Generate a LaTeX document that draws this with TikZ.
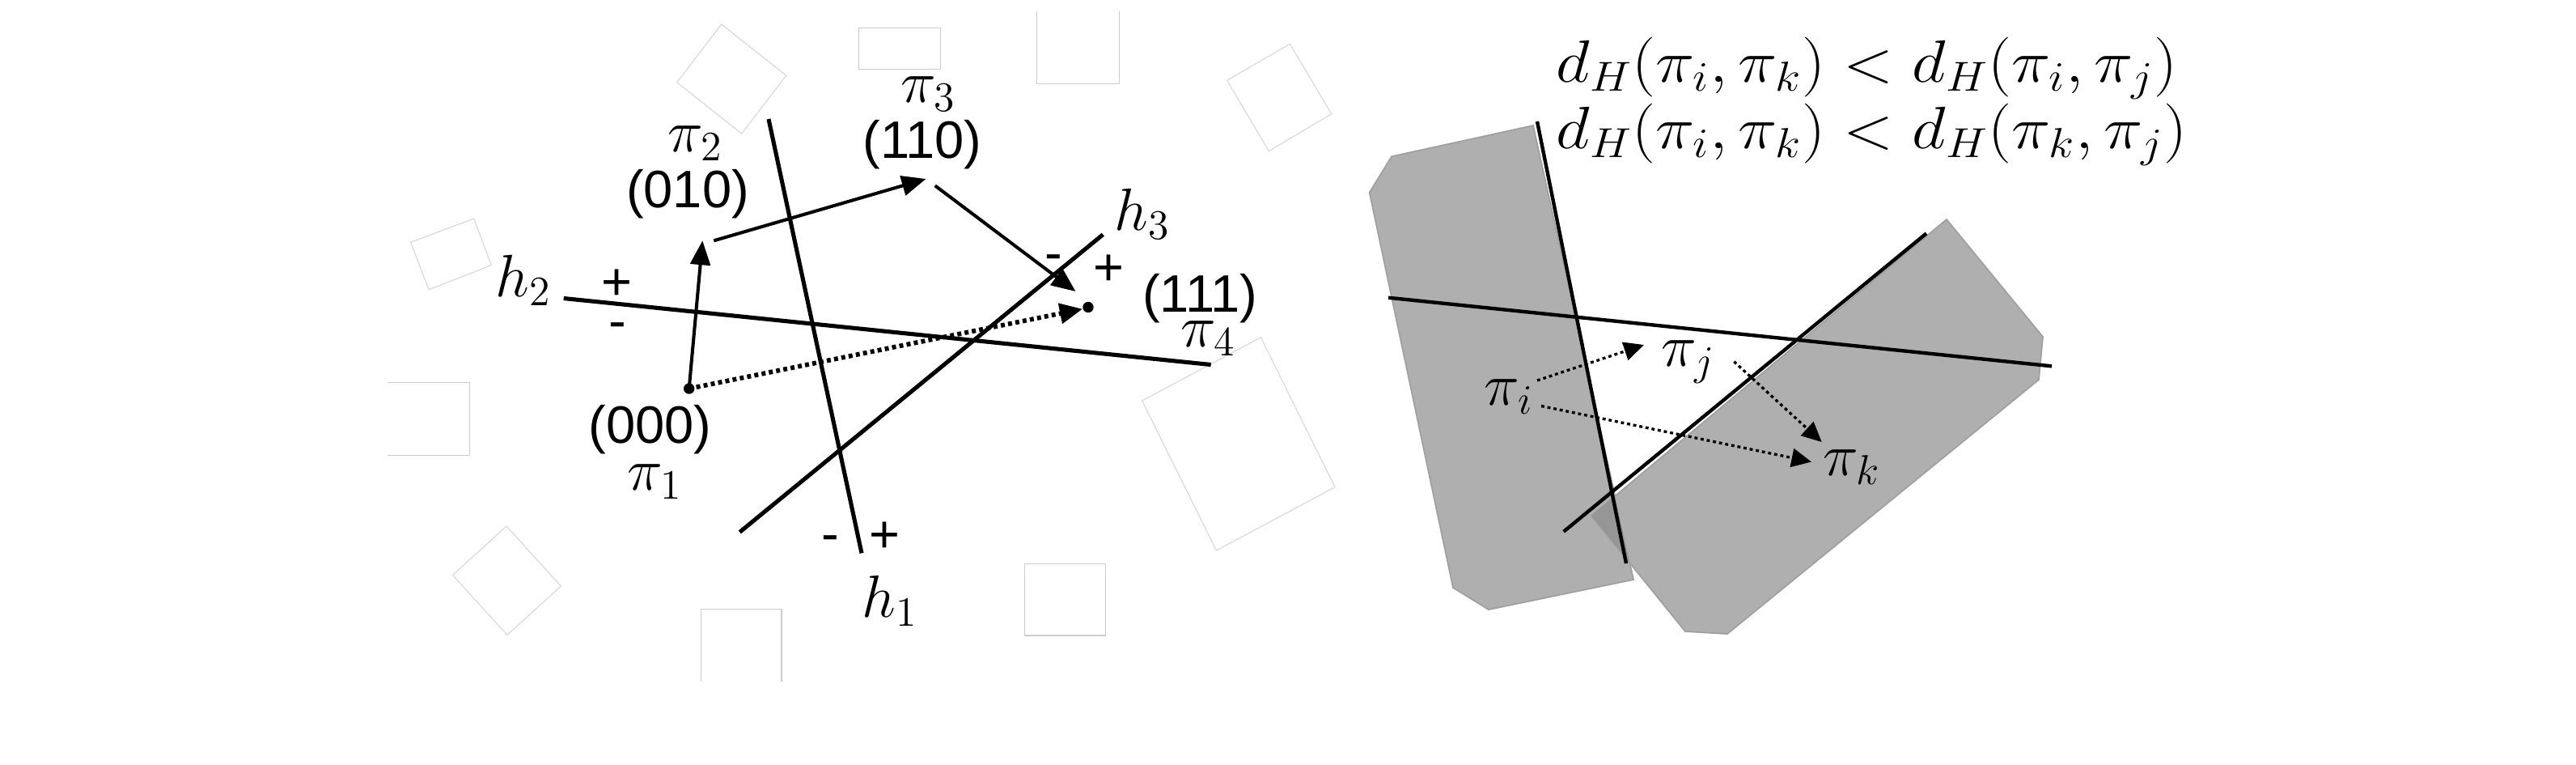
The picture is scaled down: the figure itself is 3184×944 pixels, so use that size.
\RequirePackage{fix-cm}
\documentclass[tikz,border=0pt]{standalone}
\usepackage{fontspec}
\newfontfamily\labsans{Liberation Sans}
\usetikzlibrary{arrows.meta}
\definecolor{polyfill}{RGB}{175,175,175}
\definecolor{polyover}{RGB}{150,150,150}
\definecolor{polyedge}{RGB}{160,160,160}
\definecolor{decogray}{RGB}{205,205,205}
\definecolor{decolight}{RGB}{218,218,218}
\tikzset{
  hline/.style={line width=1.45pt},
  rhline/.style={line width=1.25pt},
  arr/.style={line width=1.15pt, -{Triangle[length=8.5pt,width=7pt]}},
  dotarr/.style={line width=1.6pt, dash pattern=on 1.4pt off 1.2pt, -{Triangle[length=8pt,width=7pt]}},
  rdotarr/.style={line width=0.95pt, dash pattern=on 1.1pt off 1.1pt, -{Triangle[length=7pt,width=6.5pt]}},
  deco/.style={draw=decogray, line width=0.35pt},
  decor/.style={draw=decolight, line width=0.35pt},
  sl/.style={font=\labsans\fontsize{18.5}{21}\selectfont, inner sep=0pt, anchor=base},
  ml/.style={font=\fontsize{21}{25}\selectfont, inner sep=0pt},
  fl/.style={font=\fontsize{21}{25}\selectfont, inner sep=0pt, anchor=base west},
  poly/.style={fill=polyfill, draw=polyedge, line width=0.5pt},
  ptdot/.style={fill=black, draw=none}
}
\begin{document}
\begin{tikzpicture}[x=0.01cm,y=-0.01cm]
\useasboundingbox (0,0) rectangle (3184,944);

% ---------- faint decorative frames ----------
\draw[deco] (1061.7,34.3) rectangle (1162.3,85.3);
\draw[deco] (1281.7,14) -- (1281.7,103.3) -- (1383.3,103.3) -- (1383.3,14);
\draw[decor] (836.7,101.7) -- (891.7,30) -- (971.7,93.3) -- (916.7,165) -- cycle;
\draw[decor] (507.7,299.3) -- (585.7,270) -- (607.3,327.7) -- (530,357.7) -- cycle;
\draw[deco] (479,472.3) -- (580.3,472.3) -- (580.3,562.7) -- (479,562.7);
\draw[decor] (559.6,710.4) -- (626,650) -- (693.3,724) -- (626.9,784.4) -- cycle;
\draw[deco] (866.7,842) -- (866.7,752.3) -- (966,752.3) -- (966,842);
\draw[deco] (1266.7,696.7) rectangle (1366.7,785);
\draw[decor] (1411.7,495) -- (1558.3,416.7) -- (1650,601.7) -- (1503.4,680) -- cycle;
\draw[decor] (1516.7,99.3) -- (1594.3,54.3) -- (1645.7,140.7) -- (1568.3,186.7) -- cycle;

% ---------- left panel ----------
\coordinate (h1a) at (950,147);
\coordinate (h1b) at (1065,683.3);
\coordinate (h2a) at (696.7,368.5);
\coordinate (h2b) at (1496.7,450.5);
\coordinate (h3a) at (914.3,657.3);
\coordinate (h3b) at (1363.3,289.7);
\draw[hline] (h1a) -- (h1b);
\draw[hline] (h2a) -- (h2b);
\draw[hline] (h3a) -- (h3b);

\coordinate (p1) at (851.7,480);
\coordinate (p2) at (868.3,297.3);
\coordinate (p2out) at (882.3,297.3);
\coordinate (p3) at (1144.5,221);
\coordinate (p3out) at (1155.7,229.3);
\coordinate (p4in) at (1329.5,360);
\coordinate (p4) at (1345,379.5);
\coordinate (p4dot) at (1338,381.7);

\draw[dotarr] (p1) -- (p4dot);
\draw[arr] (p1) -- (p2);
\draw[arr] (p2out) -- (p3);
\draw[arr] (p3out) -- (p4in);
\fill[ptdot] (p1) circle[radius=1.9pt];
\fill[ptdot] (p4) circle[radius=1.9pt];

\node[ml] (lpi2) at (859.2,176.7) {$\pi_2$};
\node[sl] (l010) at (850,256.7) {(010)};
\node[ml] (lpi3) at (1147.3,115.7) {$\pi_3$};
\node[sl] (l110) at (1140,195) {(110)};
\node[sl] (l111) at (1483.3,385) {(111)};
\node[ml] (lpi4) at (1494,418.3) {$\pi_4$};
\node[sl] (l000) at (803.3,547.3) {(000)};
\node[ml] (lpi1) at (809.7,594.7) {$\pi_1$};
\node[ml] (lh1) at (1100,742.3) {$h_1$};
\node[ml] (lh2) at (647,346) {$h_2$};
\node[ml] (lh3) at (1412.3,264) {$h_3$};

\node[sl] (s2p) at (762.7,370.3) {+};
\node[sl] (s2m) at (763.3,418.7) {-};
\node[sl] (s3m) at (1302.7,334.3) {-};
\node[sl] (s3p) at (1370,352) {+};
\node[sl] (s1m) at (1026.7,681.7) {-};
\node[sl] (s1p) at (1093.3,682.7) {+};

% ---------- right panel ----------
\path[poly] (1692.7,237.7) -- (1720,193.3) -- (1895,155) -- (2019,716) -- (1840,753) -- (1796,726) -- cycle;
\path[poly] (2406,271) -- (2525,416) -- (2520,469) -- (2135,783) -- (2083,780) -- (1967,637) -- cycle;
\begin{scope}
  \clip (1692.7,237.7) -- (1720,193.3) -- (1895,155) -- (2019,716) -- (1840,753) -- (1796,726) -- cycle;
  \fill[polyover] (2406,271) -- (2525,416) -- (2520,469) -- (2135,783) -- (2083,780) -- (1967,637) -- cycle;
\end{scope}

\coordinate (r1a) at (1900,150);
\coordinate (r1b) at (2010,696);
\coordinate (r2a) at (1716,367.7);
\coordinate (r2b) at (2536,452.3);
\coordinate (r3a) at (1932.7,656.7);
\coordinate (r3b) at (2381,288.3);
\draw[rhline] (r1a) -- (r1b);
\draw[rhline] (r2a) -- (r2b);
\draw[rhline] (r3a) -- (r3b);

\node[ml] (pii) at (1865,490) {$\pi_i$};
\node[ml] (pij) at (2086.7,446.7) {$\pi_j$};
\node[ml] (pik) at (2289,576.7) {$\pi_k$};

\coordinate (ij0) at (1900,470);
\coordinate (ij1) at (2032,426);
\coordinate (ik0) at (1905,501.5);
\coordinate (ik1) at (2239,570.5);
\coordinate (jk0) at (2143.3,446.7);
\coordinate (jk1) at (2251.7,546);
\draw[rdotarr] (ij0) -- (ij1);
\draw[rdotarr] (ik0) -- (ik1);
\draw[rdotarr] (jk0) -- (jk1);

\node[fl] (f1) at (1923,101.7) {\scalebox{1.105}[1]{$d_H(\pi_i,\pi_k) < d_H(\pi_i,\pi_j)$}};
\node[fl] (f2) at (1923,183.3) {\scalebox{1.105}[1]{$d_H(\pi_i,\pi_k) < d_H(\pi_k,\pi_j)$}};
\end{tikzpicture}
\end{document}
